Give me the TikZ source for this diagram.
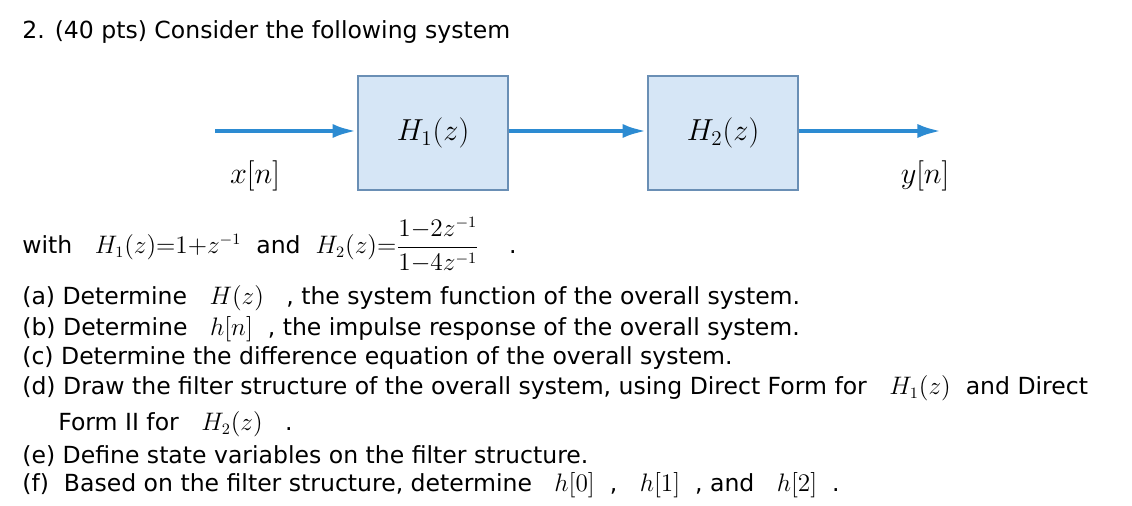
\documentclass[tikz,border=0pt]{standalone}
\usepackage{amsmath}
\usepackage{fontspec}
\setmainfont{DejaVu Sans}
\usetikzlibrary{arrows.meta}
\definecolor{boxfill}{HTML}{D6E6F6}
\definecolor{boxline}{HTML}{6A8FB5}
\definecolor{flow}{HTML}{2C8BD2}
\begin{document}
\begin{tikzpicture}[x=0.02cm,y=-0.02cm,
  txt/.style={anchor=west,inner sep=0pt,font=\fontsize{13.4}{15}\selectfont},
  blk/.style={draw=boxline,fill=boxfill,line width=1pt,minimum width=3cm,minimum height=2.28cm,font=\fontsize{17}{19}\selectfont},
  sig/.style={draw=flow,line width=2.6pt,-{Latex[length=14pt,width=8pt]}},
  lab/.style={font=\fontsize{17}{19}\selectfont}]
\useasboundingbox (0,0) rectangle (1132,506);
\node[txt] (t0) at (22,32) {2. (40 pts) Consider the following system};
\node[blk] (b1) at (433,133) {$H_1(z)$};
\node[blk] (b2) at (723,133) {$H_2(z)$};
\coordinate (in) at (215,131);
\coordinate (out) at (942,131);
\draw[sig] (in) -- (b1.west|-in);
\draw[sig] (b1.east|-in) -- (b2.west|-in);
\draw[sig] (b2.east|-in) -- (out);
\node[lab] (xn) at (255,176) {$x[n]$};
\node[lab] (yn) at (925,176) {$y[n]$};
\node[txt] (t1) at (22,245) {with\ \ \ $H_1(z){=}1{+}z^{-1}$\ \ and\ \ $H_2(z){=}\dfrac{1{-}2z^{-1}}{1{-}4z^{-1}}$\ \ \ \ .};
\node[txt] (ta) at (22,298) {(a) Determine\ \ \ $H(z)$\ \ \ , the system function of the overall system.};
\node[txt] (tb) at (22,329) {(b) Determine\ \ \ $h[n]$\ \ , the impulse response of the overall system.};
\node[txt] (tc) at (22,358) {(c) Determine the difference equation of the overall system.};
\node[txt] (td) at (22,388) {(d) Draw the filter structure of the overall system, using Direct Form for\ \ \ $H_1(z)$\ \ and Direct};
\node[txt] (td2) at (58,424) {Form II for\ \ \ $H_2(z)$\ \ \ .};
\node[txt] (te) at (22,456) {(e) Define state variables on the filter structure.};
\node[txt] (tf) at (22,485) {(f)\ \ Based on the filter structure, determine\ \ \ $h[0]$\ \ ,\ \ \ $h[1]$\ \ , and\ \ \ $h[2]$\ \ .};
\end{tikzpicture}
\end{document}
